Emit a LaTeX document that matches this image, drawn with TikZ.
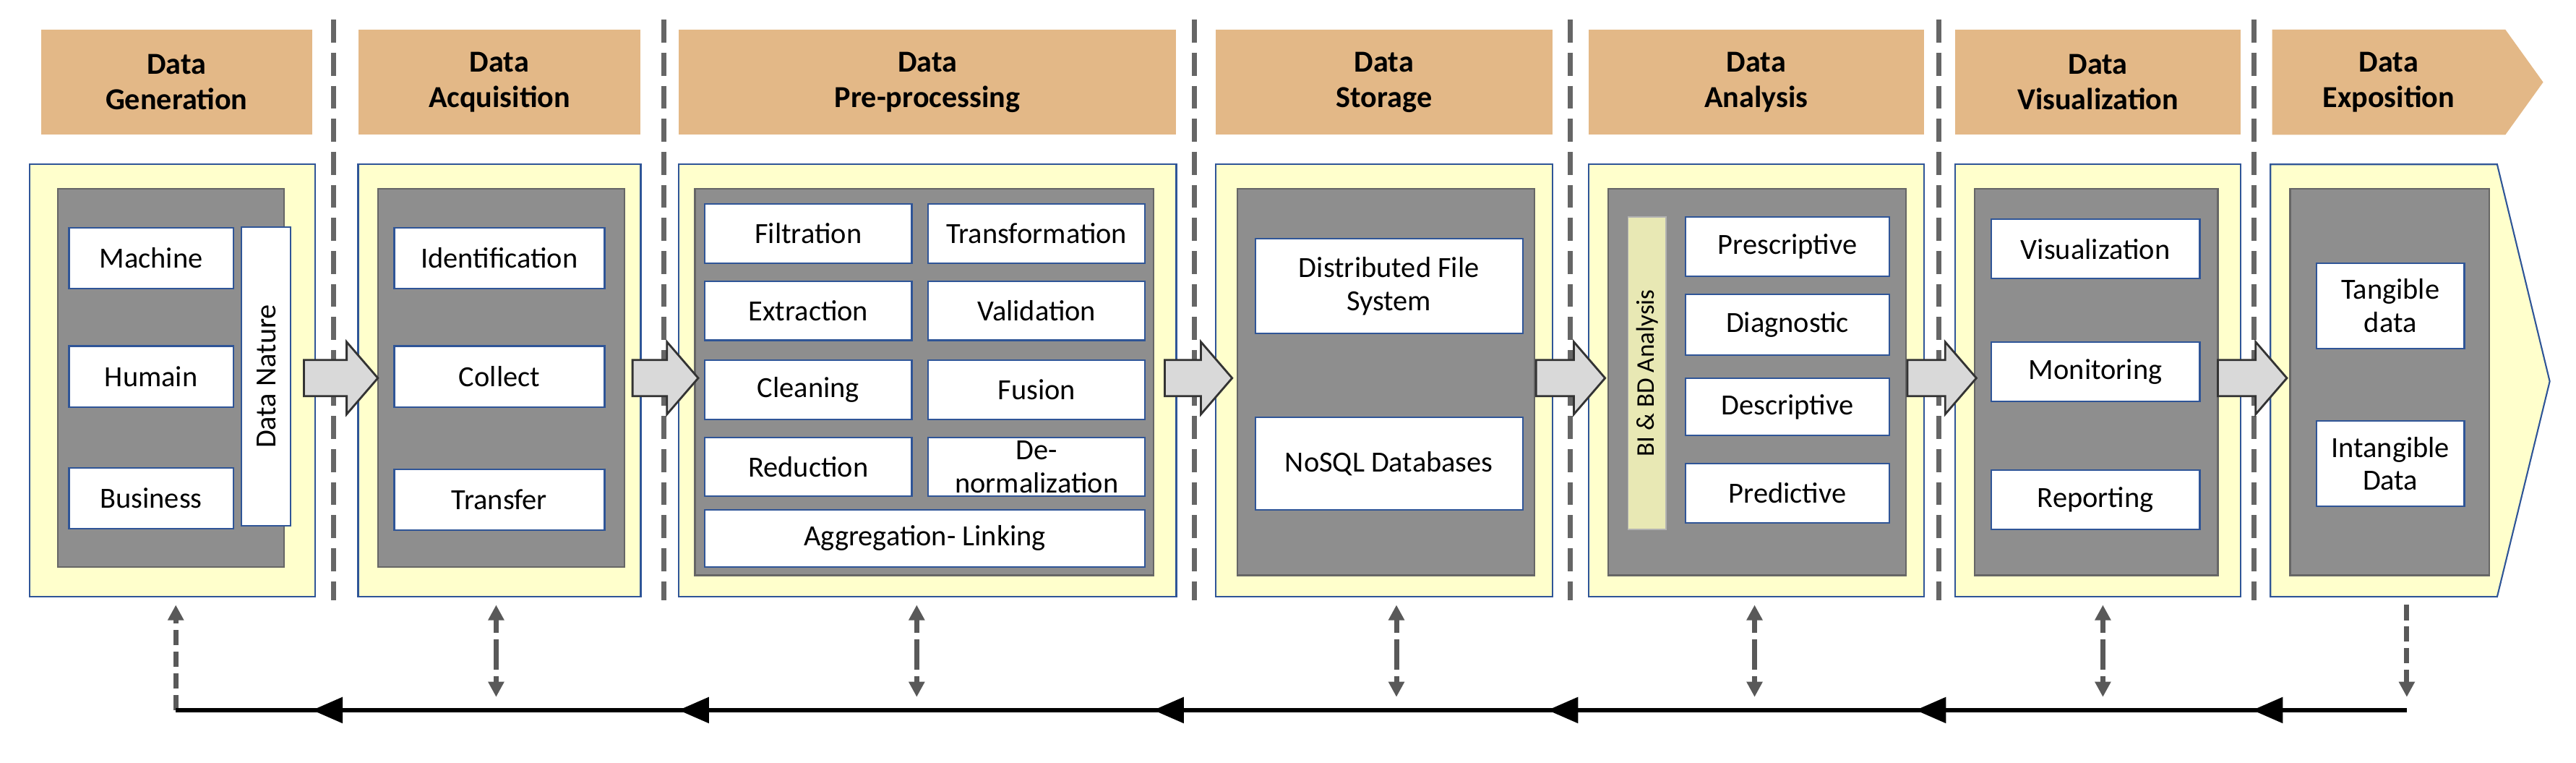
\documentclass[tikz,border=0pt]{standalone}
\usepackage{fontspec}
\setmainfont{Carlito}
\usetikzlibrary{arrows.meta}
\definecolor{hdr}{HTML}{E3B887}
\definecolor{pan}{HTML}{FFFFCC}
\definecolor{panb}{HTML}{2F5597}
\definecolor{grey}{HTML}{8E8E8E}
\definecolor{bar}{HTML}{E8E8B4}
\begin{document}
\begin{tikzpicture}[x=0.02273cm,y=-0.02273cm,
  sz/.style 2 args={minimum width=#1*0.02273cm,minimum height=#2*0.02273cm},
  hdr/.style={fill=hdr,font=\fontsize{12}{14}\selectfont\bfseries,align=center},
  panel/.style={fill=pan,draw=panb,line width=0.6pt},
  gr/.style={fill=grey,draw=black!60,line width=0.6pt},
  box/.style={draw=panb,fill=white,line width=0.6pt,inner sep=0pt,
    font=\fontsize{11.5}{13}\selectfont,align=center},
  sep/.style={line width=2pt,draw=black!60,dash pattern=on 9pt off 4pt},
  fat/.style={draw=black!80,fill=black!15,line width=0.8pt,line join=miter},
  link/.style={line width=2pt,draw=black!65,dash pattern=on 6pt off 2.5pt},
  tip/.style={-{Triangle[length=6pt,width=6pt]}},
  bus/.style={line width=1.5pt,-{Triangle[length=12pt,width=10pt]}}]
\useasboundingbox (0,0) rectangle (1568,464);
% headers
\node[hdr,sz={165}{64}] (h1) at (107.5,50) {Data\\Generation};
\node[hdr,sz={172}{64}] (h2) at (304,50) {Data\\Acquisition};
\node[hdr,sz={303}{64}] (h3) at (564.5,50) {Data\\Pre-processing};
\node[hdr,sz={205}{64}] (h4) at (842.5,50) {Data\\Storage};
\node[hdr,sz={204}{64}] (h5) at (1069,50) {Data\\Analysis};
\node[hdr,sz={174}{64}] (h6) at (1277,50) {Data\\Visualization};
\fill[hdr] (1383,18) -- (1525,18) -- (1548,50) -- (1525,82) -- (1383,82) -- cycle;
\node[font=\fontsize{12}{14}\selectfont\bfseries,align=center] (h7) at (1454,50) {Data\\Exposition};
% separators
\foreach \x in {203,404,727,956,1180,1372} \draw[sep] (\x,12) -- (\x,365);
% panels
\draw[panel] (18,100) rectangle (192,363);
\draw[panel] (218,100) rectangle (390,363);
\draw[panel] (413,100) rectangle (716,363);
\draw[panel] (740,100) rectangle (945,363);
\draw[panel] (967,100) rectangle (1171,363);
\draw[panel] (1190,100) rectangle (1364,363);
\draw[panel] (1382,100) -- (1520,100) -- (1552,232) -- (1520,363) -- (1382,363) -- cycle;
% grey areas
\draw[gr] (35,115) rectangle (173,345);
\draw[gr] (230,115) rectangle (380,345);
\draw[gr] (423,115) rectangle (702,350);
\draw[gr] (753,115) rectangle (934,350);
\draw[gr] (979,115) rectangle (1160,350);
\draw[gr] (1202,115) rectangle (1350,350);
\draw[gr] (1394,115) rectangle (1515,350);
% column 1
\node[box,sz={100}{37}] (mac) at (92,157) {Machine};
\node[box,sz={100}{37}] (hum) at (92,229) {Humain};
\node[box,sz={100}{37}] (bus) at (92,303) {Business};
\node[box,sz={30}{182}] (nat) at (162,229) {};
\node[rotate=90,font=\fontsize{11.5}{13}\selectfont] (natt) at (162,229) {Data Nature};
% column 2
\node[box,sz={128}{37}] (ide) at (304,157) {Identification};
\node[box,sz={128}{37}] (col) at (304,229) {Collect};
\node[box,sz={128}{37}] (tra) at (304,304) {Transfer};
% column 3
\node[box,sz={126}{36}] (fil) at (492,142) {Filtration};
\node[box,sz={126}{36}] (ext) at (492,189) {Extraction};
\node[box,sz={126}{36}] (cle) at (492,237) {Cleaning};
\node[box,sz={126}{36}] (red) at (492,284) {Reduction};
\node[box,sz={132}{36}] (trf) at (631,142) {Transformation};
\node[box,sz={132}{36}] (val) at (631,189) {Validation};
\node[box,sz={132}{36}] (fus) at (631,237) {Fusion};
\node[box,sz={132}{36}] (den) at (631,284) {De-\\normalization};
\node[box,sz={268}{35}] (agg) at (563,327.5) {Aggregation- Linking};
% column 4
\node[box,sz={163}{58}] (dfs) at (845.5,174) {Distributed File\\System};
\node[box,sz={163}{56}] (nos) at (845.5,282) {NoSQL Databases};
% column 5
\node[fill=bar,draw=black!30,sz={23}{190},inner sep=0pt] (bi) at (1002.5,227) {};
\node[rotate=90,font=\fontsize{10}{12}\selectfont] (bit) at (1002.5,227) {BI \& BD Analysis};
\node[box,sz={124}{36}] (pre) at (1088,150) {Prescriptive};
\node[box,sz={124}{37}] (dia) at (1088,197.5) {Diagnostic};
\node[box,sz={124}{35}] (des) at (1088,247.5) {Descriptive};
\node[box,sz={124}{36}] (prd) at (1088,300) {Predictive};
% column 6
\node[box,sz={127}{36}] (vis) at (1275.5,151.5) {Visualization};
\node[box,sz={127}{36}] (mon) at (1275.5,226) {Monitoring};
\node[box,sz={127}{36}] (rep) at (1275.5,304) {Reporting};
% column 7
\node[box,sz={90}{52}] (tan) at (1455,186) {Tangible\\data};
\node[box,sz={90}{52}] (int) at (1455,282) {Intangible\\Data};
% flow arrows
\foreach \a/\b in {185/230,385/425,709/750,935/977,1161/1203,1350/1392}
  \draw[fat] (\a,219) -- (\b-19,219) -- (\b-19,208) -- (\b,230) -- (\b-19,252)
    -- (\b-19,241) -- (\a,241) -- cycle;
% feedback bus
\foreach \n/\x in {c1/107,c2/302,c3/558,c4/850,c5/1068,c6/1280,c7/1465}
  {\coordinate (\n t) at (\x,368); \coordinate (\n m) at (\x,398);
   \coordinate (\n d) at (\x,424); \coordinate (\n b) at (\x,432);}
\draw[link,tip] (c1b) -- (c1t);
\foreach \n in {c2,c3,c4,c5,c6}
  {\draw[link,tip] (\n m) -- (\n t);
   \draw[link,tip] (\n m) -- (\n d);}
\draw[link,tip] (c7t) -- (c7d);
\draw[line width=1.5pt] (c7b) -- (c1b);
\coordinate (a1) at (190,432); \coordinate (a2) at (413,432);
\coordinate (a3) at (702,432); \coordinate (a4) at (942,432);
\coordinate (a5) at (1166,432); \coordinate (a6) at (1371,432);
\draw[bus] (c2b) -- (a1);
\draw[bus] (c3b) -- (a2);
\draw[bus] (c4b) -- (a3);
\draw[bus] (c5b) -- (a4);
\draw[bus] (c6b) -- (a5);
\draw[bus] (c7b) -- (a6);
\end{tikzpicture}
\end{document}
